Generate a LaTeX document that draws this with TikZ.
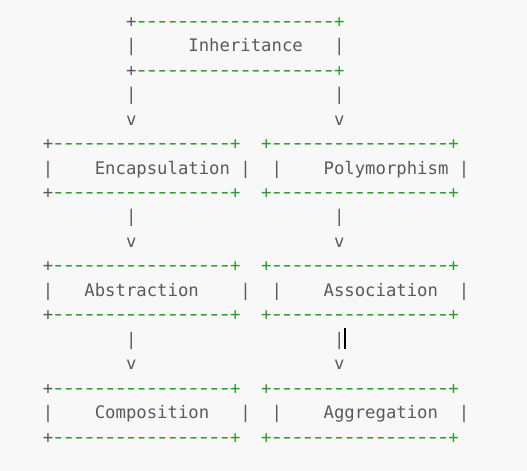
\documentclass[tikz,border=0pt]{standalone}
\usepackage{graphicx}
\usepackage{fontspec}
\newfontfamily\asciifont{DejaVu Sans Mono}[Ligatures=TeXOff]
\definecolor{txtgrey}{HTML}{5A5A5A}
\definecolor{dgreen}{HTML}{2E9A2E}
\definecolor{bgc}{HTML}{F8F8F8}
\newcommand\dsh{\makebox[10.4pt]{\scalebox{1.35}[1.1]{-}}}
\newcommand\dashrun[1]{\foreach\k in {1,...,#1}{\dsh}}
\newcommand\bordL[1]{\textcolor{txtgrey}{+}\dashrun{#1}+}
\newcommand\bordR[1]{+\dashrun{#1}+}
\begin{document}
\begin{tikzpicture}[x=10.4pt,y=-24.47pt,
  glyph/.style={anchor=base west,inner sep=0pt,outer sep=0pt,
    font=\asciifont\fontsize{17.28}{20}\selectfont,text=txtgrey},
  border/.style={glyph,text=dgreen},
  cursor/.style={draw=black,line width=1.1pt}]
\fill[bgc] (-4.1154,-1.1128) rectangle (46.558,18.135);
\useasboundingbox (-4.1154,-1.1128) rectangle (46.558,18.135);
% Inheritance box
\node[border] (inhT) at (8,0) {\bordL{19}};
\node[glyph] (inhL) at (8,1) {|};
\node[glyph] (inh) at (14,1) {Inheritance};
\node[glyph] (inhR) at (28,1) {|};
\node[border] (inhB) at (8,2) {\bordL{19}};
% connectors level 1
\node[glyph] (c1l) at (8,3) {|};
\node[glyph] (c1lv) at (8,4) {v};
\node[glyph] (c1r) at (28,3) {|};
\node[glyph] (c1rv) at (28,4) {v};
% Encapsulation / Polymorphism
\node[border] (encT) at (0,5) {\bordL{17}};
\node[border] (polT) at (21,5) {\bordR{17}};
\node[glyph] (encL) at (0,6) {|};
\node[glyph] (enc) at (5,6) {Encapsulation};
\node[glyph] (encR) at (19,6) {|};
\node[glyph] (polL) at (22,6) {|};
\node[glyph] (pol) at (27,6) {Polymorphism};
\node[glyph] (polR) at (40,6) {|};
\node[border] (encB) at (0,7) {\bordL{17}};
\node[border] (polB) at (21,7) {\bordR{17}};
% connectors level 2
\node[glyph] (c2l) at (8,8) {|};
\node[glyph] (c2lv) at (8,9) {v};
\node[glyph] (c2r) at (28,8) {|};
\node[glyph] (c2rv) at (28,9) {v};
% Abstraction / Association
\node[border] (absT) at (0,10) {\bordL{17}};
\node[border] (assT) at (21,10) {\bordR{17}};
\node[glyph] (absL) at (0,11) {|};
\node[glyph] (abs) at (4,11) {Abstraction};
\node[glyph] (absR) at (19,11) {|};
\node[glyph] (assL) at (22,11) {|};
\node[glyph] (ass) at (27,11) {Association};
\node[glyph] (assR) at (40,11) {|};
\node[border] (absB) at (0,12) {\bordL{17}};
\node[border] (assB) at (21,12) {\bordR{17}};
% connectors level 3
\node[glyph] (c3l) at (8,13) {|};
\node[glyph] (c3lv) at (8,14) {v};
\node[glyph] (c3r) at (28,13) {|};
\node[glyph] (c3rv) at (28,14) {v};
\draw[cursor] (29.06,12.29) -- (29.06,13.15);
% Composition / Aggregation
\node[border] (comT) at (0,15) {\bordL{17}};
\node[border] (aggT) at (21,15) {\bordR{17}};
\node[glyph] (comL) at (0,16) {|};
\node[glyph] (com) at (5,16) {Composition};
\node[glyph] (comR) at (19,16) {|};
\node[glyph] (aggL) at (22,16) {|};
\node[glyph] (agg) at (27,16) {Aggregation};
\node[glyph] (aggR) at (40,16) {|};
\node[border] (comB) at (0,17) {\bordL{17}};
\node[border] (aggB) at (21,17) {\bordR{17}};
\end{tikzpicture}
\end{document}
